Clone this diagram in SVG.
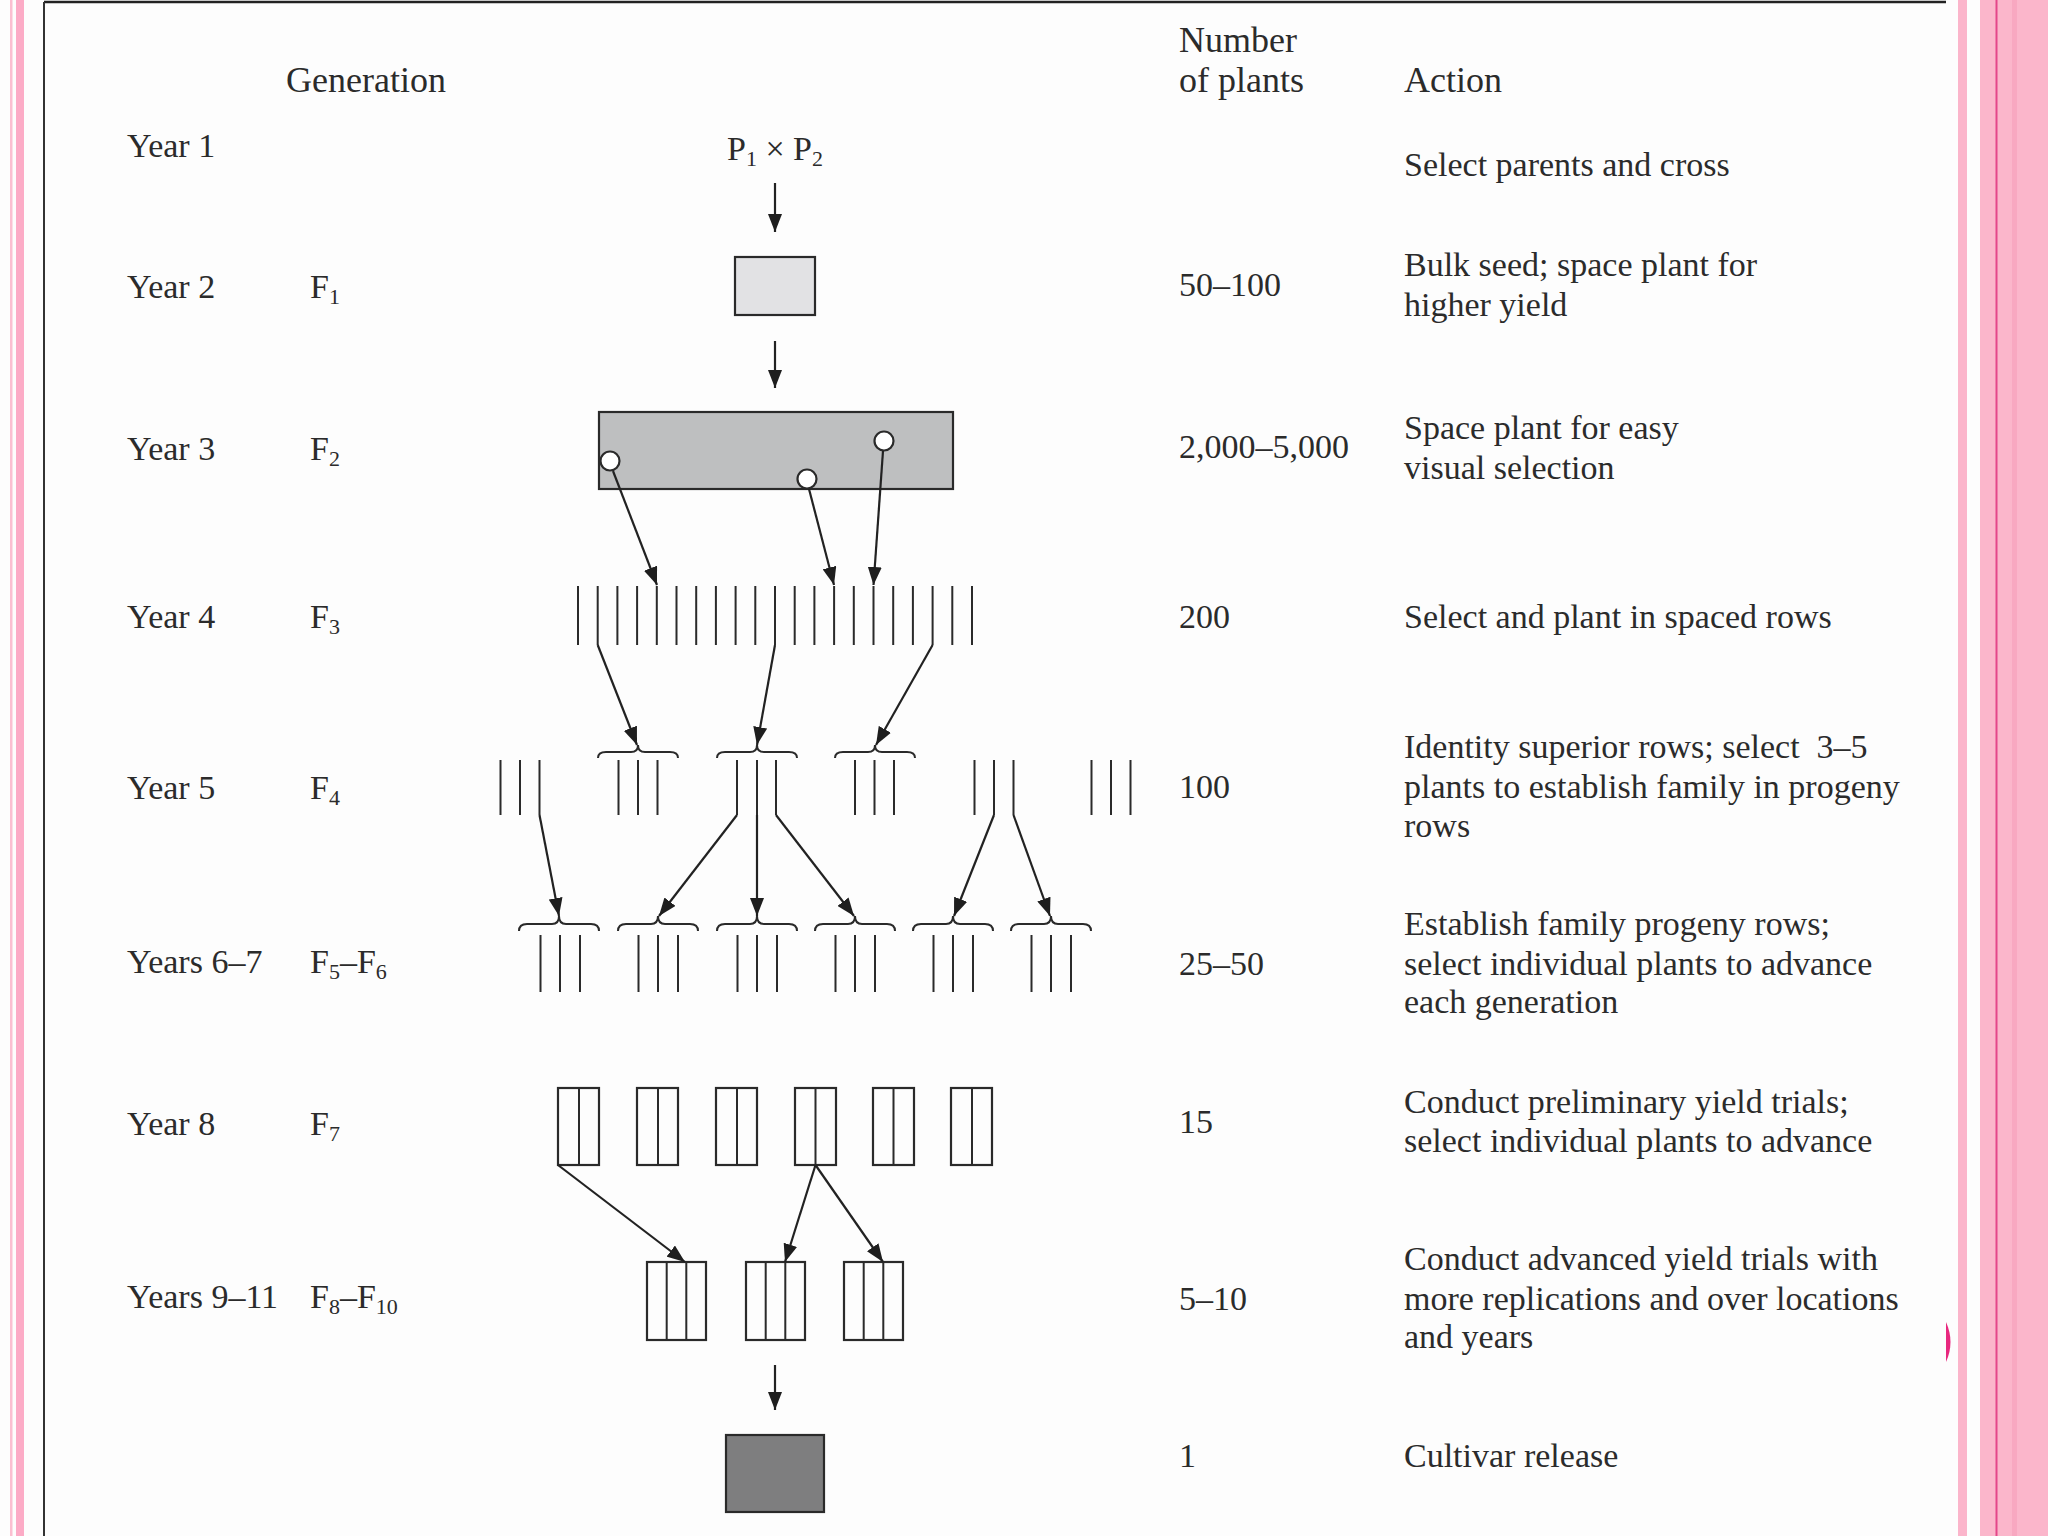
<svg xmlns="http://www.w3.org/2000/svg" width="2048" height="1536" viewBox="0 0 2048 1536">
<defs>
<style>
.t{font-family:"Liberation Serif","Times New Roman",serif;font-size:34px;fill:#2b2b2b}
.h{font-size:36px}
.sub{font-size:22px}
.ln{stroke:#2a2a2a;stroke-width:2;fill:none}
.bx{stroke:#2a2a2a;stroke-width:2.2}
.br{stroke:#2a2a2a;stroke-width:2;fill:none}
.cn{stroke:#222;stroke-width:2.2;fill:none;marker-end:url(#ah)}
</style>
<marker id="ah" markerWidth="18" markerHeight="14" refX="18" refY="7" orient="auto" markerUnits="userSpaceOnUse">
<path d="M0,0 L18,7 L0,14 z" fill="#1e1e1e"/>
</marker>
</defs>

<!-- background and page borders -->
<rect x="0" y="0" width="2048" height="1536" fill="#fdfdfd"/>
<rect x="10" y="0" width="2.5" height="1536" fill="#fbbfd1"/>
<rect x="16" y="0" width="8" height="1536" fill="#fcabc6"/>
<rect x="1958" y="0" width="9" height="1536" fill="#fbb5cb"/>
<rect x="1980" y="0" width="68" height="1536" fill="#fbb6cb"/>
<rect x="2012" y="0" width="5" height="1536" fill="#f8a8c1"/>
<rect x="1995.5" y="0" width="2" height="1536" fill="#e4468a"/>
<line x1="44" y1="2" x2="1946" y2="2" stroke="#222" stroke-width="2.5"/>
<line x1="44" y1="2" x2="44" y2="1536" stroke="#333" stroke-width="2"/>
<path d="M1946,1322 Q1955,1342 1946,1362 Z" fill="#e8287f"/>

<!-- headers -->
<g id="headers">
<text class="t h" x="286" y="92">Generation</text>
<text class="t h" x="1179" y="52">Number</text>
<text class="t h" x="1179" y="92">of plants</text>
<text class="t h" x="1404" y="92">Action</text>
</g>

<!-- row labels -->
<g id="row-labels">
<text class="t" x="127" y="157">Year 1</text>
<text class="t" x="127" y="298">Year 2</text>
<text class="t" x="310" y="298">F<tspan class="sub" dy="6">1</tspan></text>
<text class="t" x="127" y="460">Year 3</text>
<text class="t" x="310" y="460">F<tspan class="sub" dy="6">2</tspan></text>
<text class="t" x="127" y="628">Year 4</text>
<text class="t" x="310" y="628">F<tspan class="sub" dy="6">3</tspan></text>
<text class="t" x="127" y="799">Year 5</text>
<text class="t" x="310" y="799">F<tspan class="sub" dy="6">4</tspan></text>
<text class="t" x="127" y="973">Years 6–7</text>
<text class="t" x="310" y="973">F<tspan class="sub" dy="6">5</tspan><tspan dy="-6">–F</tspan><tspan class="sub" dy="6">6</tspan></text>
<text class="t" x="127" y="1135">Year 8</text>
<text class="t" x="310" y="1135">F<tspan class="sub" dy="6">7</tspan></text>
<text class="t" x="127" y="1308">Years 9–11</text>
<text class="t" x="310" y="1308">F<tspan class="sub" dy="6">8</tspan><tspan dy="-6">–F</tspan><tspan class="sub" dy="6">10</tspan></text>
</g>

<!-- numbers -->
<g id="numbers">
<text class="t" x="1179" y="296">50–100</text>
<text class="t" x="1179" y="458">2,000–5,000</text>
<text class="t" x="1179" y="628">200</text>
<text class="t" x="1179" y="798">100</text>
<text class="t" x="1179" y="975">25–50</text>
<text class="t" x="1179" y="1133">15</text>
<text class="t" x="1179" y="1310">5–10</text>
<text class="t" x="1179" y="1467">1</text>
</g>

<!-- actions -->
<g id="actions">
<text class="t" x="1404" y="176">Select parents and cross</text>
<text class="t" x="1404" y="276">Bulk seed; space plant for</text>
<text class="t" x="1404" y="316">higher yield</text>
<text class="t" x="1404" y="439">Space plant for easy</text>
<text class="t" x="1404" y="479">visual selection</text>
<text class="t" x="1404" y="628">Select and plant in spaced rows</text>
<text class="t" x="1404" y="758" xml:space="preserve">Identity superior rows; select  3–5</text>
<text class="t" x="1404" y="798">plants to establish family in progeny</text>
<text class="t" x="1404" y="837">rows</text>
<text class="t" x="1404" y="935">Establish family progeny rows;</text>
<text class="t" x="1404" y="975">select individual plants to advance</text>
<text class="t" x="1404" y="1013">each generation</text>
<text class="t" x="1404" y="1113">Conduct preliminary yield trials;</text>
<text class="t" x="1404" y="1152">select individual plants to advance</text>
<text class="t" x="1404" y="1270">Conduct advanced yield trials with</text>
<text class="t" x="1404" y="1310">more replications and over locations</text>
<text class="t" x="1404" y="1348">and years</text>
<text class="t" x="1404" y="1467">Cultivar release</text>
</g>

<!-- nodes -->
<g id="node-parents">
<text class="t" x="775" y="160" text-anchor="middle">P<tspan class="sub" dy="6">1</tspan><tspan dy="-6"> × P</tspan><tspan class="sub" dy="6">2</tspan></text>
</g>

<g id="node-f1">
<rect class="bx" x="735" y="257" width="80" height="58" fill="#e2e2e4"/>
</g>

<g id="node-f2">
<rect class="bx" x="599" y="412" width="354" height="77" fill="#bebfc0"/>
<circle cx="610" cy="461" r="9.5" fill="#fff" stroke="#2a2a2a" stroke-width="2.2"/>
<circle cx="807" cy="479" r="9.5" fill="#fff" stroke="#2a2a2a" stroke-width="2.2"/>
<circle cx="884" cy="441" r="9.5" fill="#fff" stroke="#2a2a2a" stroke-width="2.2"/>
</g>

<g id="node-f3" class="ln">
<path d="M578,586V645 M597.7,586V645 M617.4,586V645 M637.1,586V645 M656.8,586V645 M676.5,586V645 M696.2,586V645 M715.9,586V645 M735.6,586V645 M755.3,586V645 M775,586V645 M794.7,586V645 M814.4,586V645 M834.1,586V645 M853.8,586V645 M873.5,586V645 M893.2,586V645 M912.9,586V645 M932.6,586V645 M952.3,586V645 M972,586V645"/>
</g>

<g id="node-f4">
<path class="ln" d="M500.5,760V815 M520,760V815 M539.5,760V815 M618.5,760V815 M638,760V815 M657.5,760V815 M737,760V815 M757,760V815 M776,760V815 M855,760V815 M874.5,760V815 M894,760V815 M974.5,760V815 M994,760V815 M1013.5,760V815 M1091.5,760V815 M1111,760V815 M1130.5,760V815"/>
<path class="br" d="M598,758 Q598,752 606,752 L631,752 Q638,752 638,745 Q638,752 645,752 L670,752 Q678,752 678,758"/>
<path class="br" d="M717,758 Q717,752 725,752 L750,752 Q757,752 757,745 Q757,752 764,752 L789,752 Q797,752 797,758"/>
<path class="br" d="M835,758 Q835,752 843,752 L868,752 Q875,752 875,745 Q875,752 882,752 L907,752 Q915,752 915,758"/>
</g>

<g id="node-f5f6">
<path class="ln" d="M540.5,935V992 M560,935V992 M580,935V992 M638.5,935V992 M658,935V992 M678,935V992 M737.5,935V992 M757,935V992 M777,935V992 M835.5,935V992 M855,935V992 M875,935V992 M933.5,935V992 M953,935V992 M973,935V992 M1031.5,935V992 M1051,935V992 M1071,935V992"/>
<path class="br" d="M519,931 Q519,924 527,924 L552,924 Q559,924 559,916 Q559,924 566,924 L591,924 Q599,924 599,931"/>
<path class="br" d="M618,931 Q618,924 626,924 L651,924 Q658,924 658,916 Q658,924 665,924 L690,924 Q698,924 698,931"/>
<path class="br" d="M717,931 Q717,924 725,924 L750,924 Q757,924 757,916 Q757,924 764,924 L789,924 Q797,924 797,931"/>
<path class="br" d="M815,931 Q815,924 823,924 L848,924 Q855,924 855,916 Q855,924 862,924 L887,924 Q895,924 895,931"/>
<path class="br" d="M913,931 Q913,924 921,924 L946,924 Q953,924 953,916 Q953,924 960,924 L985,924 Q993,924 993,931"/>
<path class="br" d="M1011,931 Q1011,924 1019,924 L1044,924 Q1051,924 1051,916 Q1051,924 1058,924 L1083,924 Q1091,924 1091,931"/>
</g>

<g id="node-f7">
<rect class="bx" x="558" y="1088" width="41" height="77" fill="none"/>
<rect class="bx" x="637" y="1088" width="41" height="77" fill="none"/>
<rect class="bx" x="716" y="1088" width="41" height="77" fill="none"/>
<rect class="bx" x="795" y="1088" width="41" height="77" fill="none"/>
<rect class="bx" x="873" y="1088" width="41" height="77" fill="none"/>
<rect class="bx" x="951" y="1088" width="41" height="77" fill="none"/>
<path class="ln" d="M579,1088V1165 M658,1088V1165 M737,1088V1165 M815.5,1088V1165 M893.5,1088V1165 M972,1088V1165"/>
</g>

<g id="node-f8f10">
<rect class="bx" x="647" y="1262" width="59" height="78" fill="none"/>
<rect class="bx" x="746" y="1262" width="59" height="78" fill="none"/>
<rect class="bx" x="844" y="1262" width="59" height="78" fill="none"/>
<path class="ln" d="M666.7,1262V1340 M686.3,1262V1340 M765.7,1262V1340 M785.3,1262V1340 M863.7,1262V1340 M883.3,1262V1340"/>
</g>

<g id="node-cultivar">
<rect class="bx" x="726" y="1435" width="98" height="77" fill="#7e7e7f"/>
</g>

<!-- connectors -->
<g id="connectors">
<line class="cn" x1="775" y1="183" x2="775" y2="232"/>
<line class="cn" x1="775" y1="341" x2="775" y2="388"/>
<line class="cn" x1="613" y1="471" x2="657" y2="585"/>
<line class="cn" x1="809" y1="489" x2="834" y2="585"/>
<line class="cn" x1="883" y1="451" x2="873.5" y2="585"/>
<line class="cn" x1="597.7" y1="645" x2="637" y2="745"/>
<line class="cn" x1="775" y1="645" x2="757" y2="745"/>
<line class="cn" x1="932.6" y1="645" x2="876" y2="745"/>
<line class="cn" x1="539.5" y1="815" x2="559" y2="916"/>
<line class="cn" x1="737" y1="815" x2="659" y2="916"/>
<line class="cn" x1="757" y1="815" x2="757" y2="916"/>
<line class="cn" x1="776" y1="815" x2="854" y2="916"/>
<line class="cn" x1="994" y1="815" x2="954" y2="916"/>
<line class="cn" x1="1013.5" y1="815" x2="1050" y2="916"/>
<line class="cn" x1="558" y1="1165" x2="685" y2="1262"/>
<line class="cn" x1="815.5" y1="1165" x2="785" y2="1262"/>
<line class="cn" x1="815.5" y1="1165" x2="883" y2="1262"/>
<line class="cn" x1="775" y1="1365" x2="775" y2="1410"/>
</g>
</svg>
